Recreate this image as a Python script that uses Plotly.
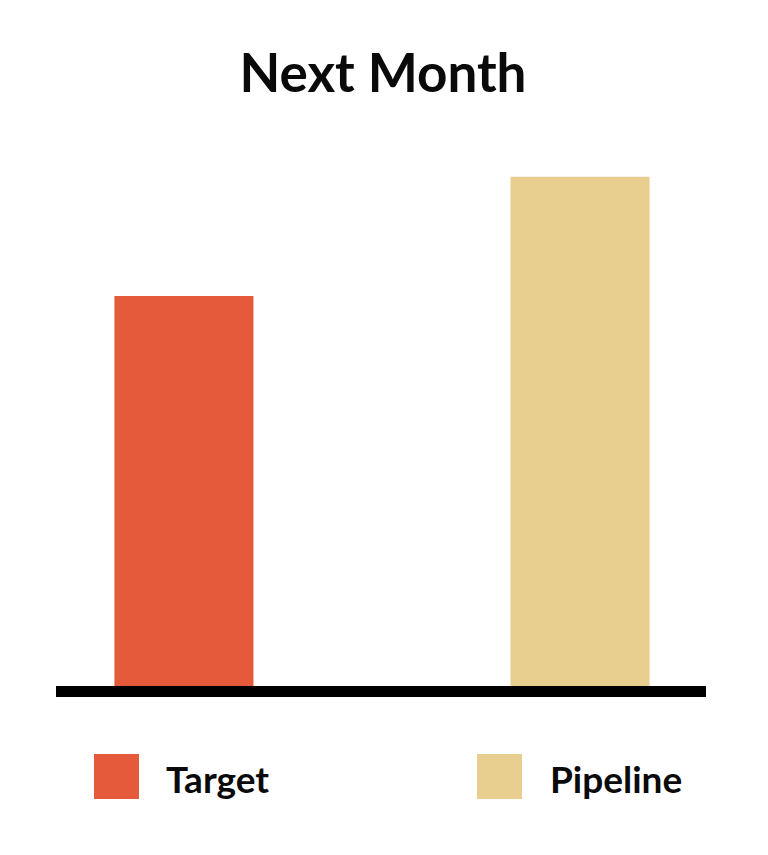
import plotly.graph_objects as go

# data (no axis shown, so relative values)
categories = ["Target", "Pipeline"]
values = [76.6, 100]
colors = ["#E45A3B", "#E9CF8F"]
title_text = "Next Month"

W, H = 768, 855
OFF = 8  # page margin of the browser body
ml, mt = 56 - OFF, 75 - OFF
plot_w = 650
mr = W - ml - plot_w
mb = H - (686 - OFF)
plot_h = H - mt - mb


def px_x(x):
    return (x - OFF - ml) / plot_w


def px_y(y):
    return (H - mb - (y - OFF)) / plot_h


fig = go.Figure()
fig.add_trace(go.Bar(
    x=categories,
    y=values,
    marker_color=colors,
    marker_line_width=0,
    width=0.351,
    showlegend=False,
))

# legend drawn by hand: big squares + bold labels
legend_sq_left = [94, 477]
legend_txt_left = [166, 550]
shapes = []
annotations = []
for i, name in enumerate(categories):
    shapes.append(dict(
        type="rect", xref="paper", yref="paper",
        x0=px_x(legend_sq_left[i]), x1=px_x(legend_sq_left[i] + 45),
        y0=px_y(754), y1=px_y(799),
        fillcolor=colors[i], line_width=0,
    ))
    annotations.append(dict(
        text="<b>" + name + "</b>", xref="paper", yref="paper",
        x=px_x(legend_txt_left[i] - 2), y=px_y(778),
        xanchor="left", yanchor="middle", showarrow=False,
        font=dict(family="Lato", size=37, color="#0a0a0a"),
    ))

fig.update_layout(
    width=W, height=H,
    margin=dict(l=ml, r=mr, t=mt, b=mb),
    paper_bgcolor="white", plot_bgcolor="white",
    title=dict(
        text="<b>" + title_text + "</b>",
        x=(383 - OFF) / W, xref="container", xanchor="center",
        y=1 - (73 - OFF) / H, yref="container", yanchor="middle",
        font=dict(family="Lato", size=53, color="#0a0a0a"),
    ),
    xaxis=dict(
        range=[-0.323, 1.318], showticklabels=False, ticks="",
        showgrid=False, zeroline=False,
        showline=True, linecolor="black", linewidth=11,
    ),
    yaxis=dict(
        range=[0, 120], visible=False, showgrid=False, zeroline=False,
    ),
    shapes=shapes,
    annotations=annotations,
)

fig.write_html("out.html")
